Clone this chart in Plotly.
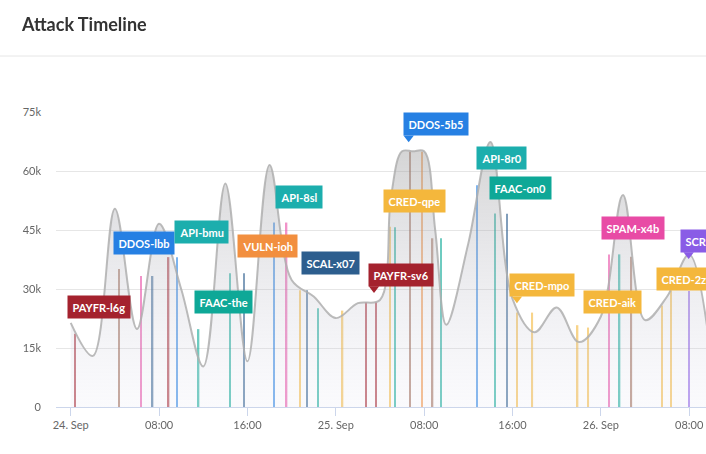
import plotly.graph_objects as go
from datetime import datetime, timedelta

BASE = datetime(2024, 9, 24)

# ---- Traffic curve (hours since 24 Sep 00:00) ----
traffic_hours = [0, 2, 4, 6, 8, 10, 12, 14, 16, 18, 20, 22, 24, 26, 28, 29, 30, 31, 32, 33,
                 34, 36, 38, 40, 42, 44, 46, 48, 50, 52, 54, 56, 58]
traffic_values = [21400, 13000, 50400, 19800, 46600, 30000, 10300, 56800, 11600, 61500,
                  32300, 28100, 22600, 26400, 27200, 53500, 65000, 65000, 65000, 45000,
                  20900, 41600, 67400, 27500, 19000, 25300, 16500, 23000, 53900, 22100,
                  28100, 38800, 12000]

# ---- Individual attacks (time, size, type) ----
attack_times = ["2024-09-24 00:23", "2024-09-24 04:22", "2024-09-24 06:23", "2024-09-24 07:25",
                "2024-09-24 08:52", "2024-09-24 09:37", "2024-09-24 11:35", "2024-09-24 14:26",
                "2024-09-24 15:40", "2024-09-24 18:26", "2024-09-24 19:33", "2024-09-24 20:47",
                "2024-09-24 21:23", "2024-09-24 22:22", "2024-09-25 00:37", "2024-09-25 02:44",
                "2024-09-25 03:38", "2024-09-25 04:55", "2024-09-25 05:22", "2024-09-25 06:44",
                "2024-09-25 07:48", "2024-09-25 08:46", "2024-09-25 09:31", "2024-09-25 12:46",
                "2024-09-25 14:26", "2024-09-25 15:30", "2024-09-25 16:24", "2024-09-25 17:48",
                "2024-09-25 21:54", "2024-09-25 22:52", "2024-09-26 00:43", "2024-09-26 01:42",
                "2024-09-26 02:46", "2024-09-26 05:32", "2024-09-26 06:20", "2024-09-26 08:00"]
attack_values = [18600, 35100, 33300, 33300, 38100, 38100, 19800, 34000, 34000, 46900,
                 46900, 29700, 29700, 25100, 24500, 26600, 26600, 45800, 45700, 64900,
                 64900, 42900, 42900, 56400, 49200, 49100, 24000, 24000, 20800, 20200,
                 38800, 38800, 38200, 25800, 29500, 29500]
attack_types = ["PAYFR", "MALW", "SPAM", "SCAL", "PAYFR", "DDOS", "FAAC", "FAAC", "SCAL",
                "DDOS", "SPAM", "CRED", "SCAL", "FAAC", "CRED", "PAYFR", "PAYFR", "CRED",
                "FAAC", "MALW", "VULN", "MALW", "FAAC", "DDOS", "FAAC", "SCAL", "CRED",
                "CRED", "CRED", "CRED", "SPAM", "FAAC", "MALW", "CRED", "CRED", "SCR"]

# ---- Plain labels (centre position: hours, value) ----
label_names = ["PAYFR-l6g", "DDOS-lbb", "API-bmu", "FAAC-the", "VULN-ioh", "API-8sl",
               "SCAL-x07", "CRED-qpe", "API-8r0", "FAAC-on0", "CRED-aik", "SPAM-x4b", "CRED-2zf"]
label_hours = [2.56, 6.59, 11.80, 13.79, 17.82, 20.65, 23.55, 31.12, 39.0, 40.68, 49.09, 50.95, 52.99]
label_values = [25300, 41800, 44600, 26600, 40900, 53500, 36500, 52500, 63200, 55600, 26600, 45500, 32500]
label_types = ["PAYFR", "DDOS", "API", "FAAC", "VULN", "API", "SCAL", "CRED", "API", "FAAC",
               "CRED", "SPAM", "CRED"]
label_anchor = ["center"] * 12 + ["left"]

# ---- Callout labels (pointer tip: hours, value) ----
callout_names = ["PAYFR-sv6", "DDOS-5b5", "CRED-mpo", "SCRP-k2m"]
callout_hours = [27.46, 30.60, 40.40, 55.95]
callout_values = [29000, 67300, 26400, 37600]
callout_types = ["PAYFR", "DDOS", "CRED", "SCR"]
callout_dx = [-6, -5.4, -8.3, -8.7]

COLORS = {
    "PAYFR": "#a4222e", "DDOS": "#2680e3", "API": "#1caead", "FAAC": "#0ea897",
    "VULN": "#f28f3f", "SCAL": "#2d5e8e", "CRED": "#f4b73c", "SPAM": "#e84ba5",
    "SCR": "#8a5ce6", "MALW": "#9b6650",
}

FONT = "Lato"
W, H = 706, 454
ML, MR, MT, MB = 56, 0, 112, 47
PLOT_H = H - MT - MB
YMAX = 75000
VAL_PER_PX = YMAX / PLOT_H

x_start = BASE - timedelta(minutes=80)
x_end = BASE + timedelta(hours=57.52)


def t(h):
    return BASE + timedelta(hours=h)


fig = go.Figure()

fig.add_trace(go.Scatter(
    x=[t(h) for h in traffic_hours], y=traffic_values,
    mode="lines", line=dict(color="rgba(175,175,175,0.85)", width=2, shape="spline", smoothing=1.0),
    fill="tozeroy",
    fillgradient=dict(type="vertical",
                      colorscale=[[0, "rgba(215,215,235,0.12)"], [1, "rgba(150,150,150,0.42)"]]),
    hoverinfo="skip",
))

fig.add_trace(go.Bar(
    x=attack_times, y=attack_values,
    width=[460000] * len(attack_times),
    marker=dict(color=[COLORS[c] for c in attack_types], line=dict(width=0)),
    opacity=0.6, hoverinfo="skip",
))

annotations = []
for name, h, v, typ, anc in zip(label_names, label_hours, label_values, label_types, label_anchor):
    annotations.append(dict(
        x=t(h), y=v, xref="x", yref="y", text=f"<b>{name}</b>", showarrow=False,
        xanchor=anc, yanchor="middle", bgcolor=COLORS[typ], borderpad=4.5,
        font=dict(family=FONT, size=11, color="white"),
    ))

for name, h, v, typ, dx in zip(callout_names, callout_hours, callout_values, callout_types, callout_dx):
    annotations.append(dict(
        x=t(h), y=v, xref="x", yref="y", text=f"<b>{name}</b>", showarrow=False,
        xanchor="left", yanchor="bottom", xshift=dx, yshift=6,
        bgcolor=COLORS[typ], borderpad=4.5,
        font=dict(family=FONT, size=11, color="white"),
    ))

# pointer triangles of the callouts
fig.add_trace(go.Scatter(
    x=[t(h) for h in callout_hours],
    y=[v + 4.5 * VAL_PER_PX for v in callout_values],
    mode="markers",
    marker=dict(symbol="triangle-down", size=9, color=[COLORS[c] for c in callout_types],
                line=dict(width=0)),
    hoverinfo="skip", cliponaxis=False,
))

tick_hours = [0, 8, 16, 24, 32, 40, 48, 56]
tick_text = ["24. Sep", "08:00", "16:00", "25. Sep", "08:00", "16:00", "26. Sep", "08:00"]
y_ticks = [0, 15000, 30000, 45000, 60000, 75000]
y_text = ["0", "15k", "30k", "45k", "60k", "75k"]

fig.update_layout(
    width=W, height=H,
    margin=dict(l=ML, r=MR, t=MT, b=MB, pad=0),
    paper_bgcolor="white", plot_bgcolor="white",
    showlegend=False, barmode="overlay",
    font=dict(family=FONT, color="#666666", size=11),
    title=dict(text="<b>Attack Timeline</b>", x=22 / W, xanchor="left", xref="container",
               y=1 - 24.5 / H, yanchor="middle", yref="container",
               font=dict(family=FONT, size=18, color="#333333")),
    xaxis=dict(type="date", range=[x_start, x_end], tickvals=[t(h) for h in tick_hours],
               ticktext=tick_text, showgrid=False, showline=True, linecolor="#ccd6eb",
               linewidth=1, ticks="outside", ticklen=8, tickcolor="#ccd6eb",
               tickfont=dict(family=FONT, size=11, color="#666666"), zeroline=False),
    yaxis=dict(range=[0, YMAX], tickvals=y_ticks, ticktext=y_text, showgrid=True,
               gridcolor="#e6e6e6", gridwidth=1, zeroline=False, showline=False,
               ticks="", ticklabelstandoff=14,
               tickfont=dict(family=FONT, size=11, color="#666666")),
    annotations=annotations,
    shapes=[dict(type="line", xref="paper", yref="paper", x0=-ML / (W - ML - MR), x1=1,
                 y0=(H - MB - 56) / PLOT_H, y1=(H - MB - 56) / PLOT_H,
                 line=dict(color="#e6e6e6", width=1))],
)

fig.write_html("out.html", config={"displayModeBar": False},
               post_script="document.body.style.margin='0';document.body.style.overflow='hidden';")
